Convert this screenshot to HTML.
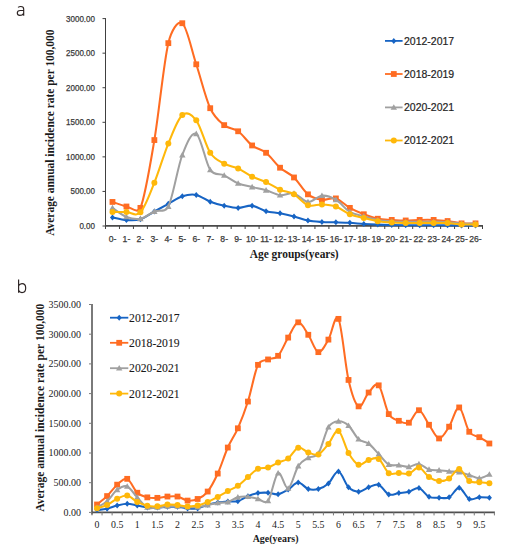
<!DOCTYPE html>
<html><head><meta charset="utf-8"><style>
html,body{margin:0;padding:0;background:#fff;}
body{width:513px;height:550px;overflow:hidden;position:relative;}
svg{position:absolute;left:0;top:0;}
.tt{font-family:"Liberation Sans",sans-serif;font-size:8.8px;fill:#3a3a3a;stroke:#3a3a3a;stroke-width:0.25px;}
.tc{font-family:"Liberation Sans",sans-serif;font-size:8.6px;fill:#3a3a3a;stroke:#3a3a3a;stroke-width:0.25px;}
.tl{font-family:"Liberation Sans",sans-serif;font-size:11px;fill:#222;stroke:#222;stroke-width:0.2px;}
.ttl{font-family:"Liberation Serif",serif;font-weight:bold;font-size:12.4px;fill:#1a1a1a;}
.ttl2{font-family:"Liberation Serif",serif;font-weight:bold;font-size:10.2px;fill:#1a1a1a;}
.bt{font-family:"Liberation Serif",serif;font-size:10px;fill:#222;}
.bc{font-family:"Liberation Serif",serif;font-size:9.9px;fill:#222;}
.bl{font-family:"Liberation Serif",serif;font-size:12.9px;fill:#1a1a1a;stroke:#1a1a1a;stroke-width:0.1px;}
.lab{font-family:"Liberation Sans",sans-serif;font-size:17px;fill:#333;}
</style></head><body>
<svg width="513" height="550" viewBox="0 0 513 550">
<path d="M105.5,18.1 V226.5" stroke="#404040" stroke-width="1" fill="none"/>
<path d="M105.0,225.8 H483.0" stroke="#4a4a4a" stroke-width="1.7" fill="none"/>
<path d="M102.5,226.00 H105.5" stroke="#404040" stroke-width="1"/>
<text x="95.0" y="228.95" text-anchor="end" class="tt" textLength="15.57" lengthAdjust="spacingAndGlyphs">0.00</text>
<path d="M102.5,191.43 H105.5" stroke="#404040" stroke-width="1"/>
<text x="95.0" y="194.38" text-anchor="end" class="tt" textLength="24.46" lengthAdjust="spacingAndGlyphs">500.00</text>
<path d="M102.5,156.87 H105.5" stroke="#404040" stroke-width="1"/>
<text x="95.0" y="159.82" text-anchor="end" class="tt" textLength="28.91" lengthAdjust="spacingAndGlyphs">1000.00</text>
<path d="M102.5,122.30 H105.5" stroke="#404040" stroke-width="1"/>
<text x="95.0" y="125.25" text-anchor="end" class="tt" textLength="28.91" lengthAdjust="spacingAndGlyphs">1500.00</text>
<path d="M102.5,87.73 H105.5" stroke="#404040" stroke-width="1"/>
<text x="95.0" y="90.68" text-anchor="end" class="tt" textLength="28.91" lengthAdjust="spacingAndGlyphs">2000.00</text>
<path d="M102.5,53.17 H105.5" stroke="#404040" stroke-width="1"/>
<text x="95.0" y="56.12" text-anchor="end" class="tt" textLength="28.91" lengthAdjust="spacingAndGlyphs">2500.00</text>
<path d="M102.5,18.60 H105.5" stroke="#404040" stroke-width="1"/>
<text x="95.0" y="21.55" text-anchor="end" class="tt" textLength="28.91" lengthAdjust="spacingAndGlyphs">3000.00</text>
<path d="M105.50,226.0 V229.0" stroke="#404040" stroke-width="1"/>
<path d="M119.46,226.0 V229.0" stroke="#404040" stroke-width="1"/>
<path d="M133.43,226.0 V229.0" stroke="#404040" stroke-width="1"/>
<path d="M147.39,226.0 V229.0" stroke="#404040" stroke-width="1"/>
<path d="M161.35,226.0 V229.0" stroke="#404040" stroke-width="1"/>
<path d="M175.31,226.0 V229.0" stroke="#404040" stroke-width="1"/>
<path d="M189.28,226.0 V229.0" stroke="#404040" stroke-width="1"/>
<path d="M203.24,226.0 V229.0" stroke="#404040" stroke-width="1"/>
<path d="M217.20,226.0 V229.0" stroke="#404040" stroke-width="1"/>
<path d="M231.17,226.0 V229.0" stroke="#404040" stroke-width="1"/>
<path d="M245.13,226.0 V229.0" stroke="#404040" stroke-width="1"/>
<path d="M259.09,226.0 V229.0" stroke="#404040" stroke-width="1"/>
<path d="M273.06,226.0 V229.0" stroke="#404040" stroke-width="1"/>
<path d="M287.02,226.0 V229.0" stroke="#404040" stroke-width="1"/>
<path d="M300.98,226.0 V229.0" stroke="#404040" stroke-width="1"/>
<path d="M314.94,226.0 V229.0" stroke="#404040" stroke-width="1"/>
<path d="M328.91,226.0 V229.0" stroke="#404040" stroke-width="1"/>
<path d="M342.87,226.0 V229.0" stroke="#404040" stroke-width="1"/>
<path d="M356.83,226.0 V229.0" stroke="#404040" stroke-width="1"/>
<path d="M370.80,226.0 V229.0" stroke="#404040" stroke-width="1"/>
<path d="M384.76,226.0 V229.0" stroke="#404040" stroke-width="1"/>
<path d="M398.72,226.0 V229.0" stroke="#404040" stroke-width="1"/>
<path d="M412.69,226.0 V229.0" stroke="#404040" stroke-width="1"/>
<path d="M426.65,226.0 V229.0" stroke="#404040" stroke-width="1"/>
<path d="M440.61,226.0 V229.0" stroke="#404040" stroke-width="1"/>
<path d="M454.57,226.0 V229.0" stroke="#404040" stroke-width="1"/>
<path d="M468.54,226.0 V229.0" stroke="#404040" stroke-width="1"/>
<path d="M482.50,226.0 V229.0" stroke="#404040" stroke-width="1"/>
<text x="112.48" y="241.8" text-anchor="middle" class="tc">0-</text>
<text x="126.44" y="241.8" text-anchor="middle" class="tc">1-</text>
<text x="140.41" y="241.8" text-anchor="middle" class="tc">2-</text>
<text x="154.37" y="241.8" text-anchor="middle" class="tc">3-</text>
<text x="168.33" y="241.8" text-anchor="middle" class="tc">4-</text>
<text x="182.30" y="241.8" text-anchor="middle" class="tc">5-</text>
<text x="196.26" y="241.8" text-anchor="middle" class="tc">6-</text>
<text x="210.22" y="241.8" text-anchor="middle" class="tc">7-</text>
<text x="224.19" y="241.8" text-anchor="middle" class="tc">8-</text>
<text x="238.15" y="241.8" text-anchor="middle" class="tc">9-</text>
<text x="252.11" y="241.8" text-anchor="middle" class="tc">10-</text>
<text x="266.07" y="241.8" text-anchor="middle" class="tc">11-</text>
<text x="280.04" y="241.8" text-anchor="middle" class="tc">12-</text>
<text x="294.00" y="241.8" text-anchor="middle" class="tc">13-</text>
<text x="307.96" y="241.8" text-anchor="middle" class="tc">14-</text>
<text x="321.93" y="241.8" text-anchor="middle" class="tc">15-</text>
<text x="335.89" y="241.8" text-anchor="middle" class="tc">16-</text>
<text x="349.85" y="241.8" text-anchor="middle" class="tc">17-</text>
<text x="363.81" y="241.8" text-anchor="middle" class="tc">18-</text>
<text x="377.78" y="241.8" text-anchor="middle" class="tc">19-</text>
<text x="391.74" y="241.8" text-anchor="middle" class="tc">20-</text>
<text x="405.70" y="241.8" text-anchor="middle" class="tc">21-</text>
<text x="419.67" y="241.8" text-anchor="middle" class="tc">22-</text>
<text x="433.63" y="241.8" text-anchor="middle" class="tc">23-</text>
<text x="447.59" y="241.8" text-anchor="middle" class="tc">24-</text>
<text x="461.56" y="241.8" text-anchor="middle" class="tc">25-</text>
<text x="475.52" y="241.8" text-anchor="middle" class="tc">26-</text>
<path d="M112.48,217.43 C114.81,217.88 121.79,219.80 126.44,220.12 C131.10,220.45 135.75,220.80 140.41,219.36 C145.06,217.92 149.72,214.07 154.37,211.48 C159.02,208.89 163.68,206.34 168.33,203.81 C172.99,201.27 177.64,197.76 182.30,196.27 C186.95,194.79 191.60,193.99 196.26,194.89 C200.91,195.79 205.57,199.87 210.22,201.67 C214.88,203.46 219.53,204.64 224.19,205.67 C228.84,206.71 233.49,207.89 238.15,207.89 C242.80,207.89 247.46,205.12 252.11,205.67 C256.77,206.23 261.42,209.93 266.07,211.21 C270.73,212.48 275.38,212.46 280.04,213.35 C284.69,214.24 289.35,215.32 294.00,216.53 C298.65,217.74 303.31,219.70 307.96,220.61 C312.62,221.52 317.27,221.70 321.93,221.99 C326.58,222.28 331.23,222.20 335.89,222.34 C340.54,222.47 345.20,222.55 349.85,222.82 C354.51,223.08 359.16,223.63 363.81,223.93 C368.47,224.23 373.12,224.44 377.78,224.62 C382.43,224.79 387.09,224.87 391.74,224.96 C396.40,225.06 401.05,225.14 405.70,225.17 C410.36,225.20 415.01,225.17 419.67,225.17 C424.32,225.17 428.98,225.15 433.63,225.17 C438.28,225.19 442.94,225.26 447.59,225.31 C452.25,225.35 456.90,225.42 461.56,225.45 C466.21,225.47 473.19,225.45 475.52,225.45" stroke="#1764C4" stroke-width="2.05" fill="none" stroke-linejoin="round" stroke-linecap="round"/>
<path d="M112.48,214.43 L115.03,217.43 L112.48,220.43 L109.93,217.43Z" fill="#1764C4"/>
<path d="M126.44,217.12 L128.99,220.12 L126.44,223.12 L123.89,220.12Z" fill="#1764C4"/>
<path d="M140.41,216.36 L142.96,219.36 L140.41,222.36 L137.86,219.36Z" fill="#1764C4"/>
<path d="M154.37,208.48 L156.92,211.48 L154.37,214.48 L151.82,211.48Z" fill="#1764C4"/>
<path d="M168.33,200.81 L170.88,203.81 L168.33,206.81 L165.78,203.81Z" fill="#1764C4"/>
<path d="M182.30,193.27 L184.85,196.27 L182.30,199.27 L179.75,196.27Z" fill="#1764C4"/>
<path d="M196.26,191.89 L198.81,194.89 L196.26,197.89 L193.71,194.89Z" fill="#1764C4"/>
<path d="M210.22,198.67 L212.77,201.67 L210.22,204.67 L207.67,201.67Z" fill="#1764C4"/>
<path d="M224.19,202.67 L226.74,205.67 L224.19,208.67 L221.64,205.67Z" fill="#1764C4"/>
<path d="M238.15,204.89 L240.70,207.89 L238.15,210.89 L235.60,207.89Z" fill="#1764C4"/>
<path d="M252.11,202.67 L254.66,205.67 L252.11,208.67 L249.56,205.67Z" fill="#1764C4"/>
<path d="M266.07,208.21 L268.62,211.21 L266.07,214.21 L263.52,211.21Z" fill="#1764C4"/>
<path d="M280.04,210.35 L282.59,213.35 L280.04,216.35 L277.49,213.35Z" fill="#1764C4"/>
<path d="M294.00,213.53 L296.55,216.53 L294.00,219.53 L291.45,216.53Z" fill="#1764C4"/>
<path d="M307.96,217.61 L310.51,220.61 L307.96,223.61 L305.41,220.61Z" fill="#1764C4"/>
<path d="M321.93,218.99 L324.48,221.99 L321.93,224.99 L319.38,221.99Z" fill="#1764C4"/>
<path d="M335.89,219.34 L338.44,222.34 L335.89,225.34 L333.34,222.34Z" fill="#1764C4"/>
<path d="M349.85,219.82 L352.40,222.82 L349.85,225.82 L347.30,222.82Z" fill="#1764C4"/>
<path d="M363.81,220.93 L366.36,223.93 L363.81,226.93 L361.26,223.93Z" fill="#1764C4"/>
<path d="M377.78,221.62 L380.33,224.62 L377.78,227.62 L375.23,224.62Z" fill="#1764C4"/>
<path d="M391.74,221.96 L394.29,224.96 L391.74,227.96 L389.19,224.96Z" fill="#1764C4"/>
<path d="M405.70,222.17 L408.25,225.17 L405.70,228.17 L403.15,225.17Z" fill="#1764C4"/>
<path d="M419.67,222.17 L422.22,225.17 L419.67,228.17 L417.12,225.17Z" fill="#1764C4"/>
<path d="M433.63,222.17 L436.18,225.17 L433.63,228.17 L431.08,225.17Z" fill="#1764C4"/>
<path d="M447.59,222.31 L450.14,225.31 L447.59,228.31 L445.04,225.31Z" fill="#1764C4"/>
<path d="M461.56,222.45 L464.11,225.45 L461.56,228.45 L459.01,225.45Z" fill="#1764C4"/>
<path d="M475.52,222.45 L478.07,225.45 L475.52,228.45 L472.97,225.45Z" fill="#1764C4"/>
<path d="M112.48,201.94 C114.81,202.70 121.79,205.51 126.44,206.50 C131.10,207.50 137.69,214.35 140.41,207.89 C145.06,196.81 149.72,167.52 154.37,140.07 C159.02,112.61 163.68,62.61 168.33,43.14 C171.16,31.32 177.64,19.71 182.30,23.23 C186.95,26.76 191.60,50.14 196.26,64.30 C200.91,78.46 205.57,98.06 210.22,108.20 C214.80,118.17 219.53,121.29 224.19,125.13 C228.84,128.98 233.49,127.90 238.15,131.29 C242.80,134.67 247.46,141.88 252.11,145.46 C256.77,149.04 261.42,149.08 266.07,152.79 C270.73,156.50 275.38,163.61 280.04,167.72 C284.69,171.83 289.35,173.03 294.00,177.47 C298.65,181.90 303.31,190.63 307.96,194.34 C312.62,198.05 317.27,199.05 321.93,199.73 C326.58,200.41 331.23,197.06 335.89,198.42 C340.54,199.78 345.20,205.25 349.85,207.89 C354.51,210.53 359.16,212.44 363.81,214.25 C368.47,216.06 373.12,217.80 377.78,218.74 C382.43,219.69 387.09,219.63 391.74,219.92 C396.40,220.20 401.05,220.47 405.70,220.47 C410.36,220.47 415.01,220.01 419.67,219.92 C424.32,219.82 428.98,219.73 433.63,219.92 C438.28,220.10 442.94,220.45 447.59,221.02 C452.25,221.60 456.90,222.98 461.56,223.37 C466.21,223.76 473.19,223.37 475.52,223.37" stroke="#FF6C22" stroke-width="2.05" fill="none" stroke-linejoin="round" stroke-linecap="round"/>
<rect x="109.58" y="199.04" width="5.80" height="5.80" fill="#FF6C22"/>
<rect x="123.54" y="203.60" width="5.80" height="5.80" fill="#FF6C22"/>
<rect x="137.51" y="204.99" width="5.80" height="5.80" fill="#FF6C22"/>
<rect x="151.47" y="137.17" width="5.80" height="5.80" fill="#FF6C22"/>
<rect x="165.43" y="40.24" width="5.80" height="5.80" fill="#FF6C22"/>
<rect x="179.40" y="20.33" width="5.80" height="5.80" fill="#FF6C22"/>
<rect x="193.36" y="61.40" width="5.80" height="5.80" fill="#FF6C22"/>
<rect x="207.32" y="105.30" width="5.80" height="5.80" fill="#FF6C22"/>
<rect x="221.29" y="122.23" width="5.80" height="5.80" fill="#FF6C22"/>
<rect x="235.25" y="128.39" width="5.80" height="5.80" fill="#FF6C22"/>
<rect x="249.21" y="142.56" width="5.80" height="5.80" fill="#FF6C22"/>
<rect x="263.17" y="149.89" width="5.80" height="5.80" fill="#FF6C22"/>
<rect x="277.14" y="164.82" width="5.80" height="5.80" fill="#FF6C22"/>
<rect x="291.10" y="174.57" width="5.80" height="5.80" fill="#FF6C22"/>
<rect x="305.06" y="191.44" width="5.80" height="5.80" fill="#FF6C22"/>
<rect x="319.03" y="196.83" width="5.80" height="5.80" fill="#FF6C22"/>
<rect x="332.99" y="195.52" width="5.80" height="5.80" fill="#FF6C22"/>
<rect x="346.95" y="204.99" width="5.80" height="5.80" fill="#FF6C22"/>
<rect x="360.91" y="211.35" width="5.80" height="5.80" fill="#FF6C22"/>
<rect x="374.88" y="215.84" width="5.80" height="5.80" fill="#FF6C22"/>
<rect x="388.84" y="217.02" width="5.80" height="5.80" fill="#FF6C22"/>
<rect x="402.80" y="217.57" width="5.80" height="5.80" fill="#FF6C22"/>
<rect x="416.77" y="217.02" width="5.80" height="5.80" fill="#FF6C22"/>
<rect x="430.73" y="217.02" width="5.80" height="5.80" fill="#FF6C22"/>
<rect x="444.69" y="218.12" width="5.80" height="5.80" fill="#FF6C22"/>
<rect x="458.66" y="220.47" width="5.80" height="5.80" fill="#FF6C22"/>
<rect x="472.62" y="220.47" width="5.80" height="5.80" fill="#FF6C22"/>
<path d="M112.48,207.89 C114.81,209.38 121.79,215.07 126.44,216.87 C131.10,218.68 135.75,219.64 140.41,218.74 C145.06,217.84 149.72,213.52 154.37,211.48 C159.02,209.44 165.05,213.15 168.33,206.50 C172.99,197.09 177.64,167.12 182.30,155.00 C186.85,143.14 191.60,131.29 196.26,133.78 C200.91,136.26 205.57,163.00 210.22,169.93 C214.40,176.16 219.53,173.15 224.19,175.39 C228.84,177.64 233.49,181.48 238.15,183.41 C242.80,185.35 247.46,185.87 252.11,187.01 C256.77,188.15 261.42,188.90 266.07,190.26 C270.73,191.62 275.38,194.62 280.04,195.17 C284.69,195.71 289.35,192.38 294.00,193.51 C298.65,194.64 303.31,201.58 307.96,201.94 C312.62,202.30 317.27,196.02 321.93,195.65 C326.58,195.28 331.23,197.01 335.89,199.73 C340.54,202.45 345.20,209.20 349.85,211.97 C354.51,214.73 359.16,214.96 363.81,216.32 C368.47,217.68 373.12,219.26 377.78,220.12 C382.43,220.99 387.09,221.22 391.74,221.51 C396.40,221.79 401.05,221.79 405.70,221.85 C410.36,221.91 415.01,221.85 419.67,221.85 C424.32,221.85 428.98,221.79 433.63,221.85 C438.28,221.91 442.94,221.91 447.59,222.20 C452.25,222.49 456.90,223.35 461.56,223.58 C466.21,223.81 473.19,223.58 475.52,223.58" stroke="#A0A0A0" stroke-width="2.05" fill="none" stroke-linejoin="round" stroke-linecap="round"/>
<path d="M112.48,204.69 L115.68,210.29 L109.28,210.29Z" fill="#A0A0A0"/>
<path d="M126.44,213.67 L129.64,219.27 L123.24,219.27Z" fill="#A0A0A0"/>
<path d="M140.41,215.54 L143.61,221.14 L137.21,221.14Z" fill="#A0A0A0"/>
<path d="M154.37,208.28 L157.57,213.88 L151.17,213.88Z" fill="#A0A0A0"/>
<path d="M168.33,203.30 L171.53,208.90 L165.13,208.90Z" fill="#A0A0A0"/>
<path d="M182.30,151.80 L185.50,157.40 L179.10,157.40Z" fill="#A0A0A0"/>
<path d="M196.26,130.58 L199.46,136.18 L193.06,136.18Z" fill="#A0A0A0"/>
<path d="M210.22,166.73 L213.42,172.33 L207.02,172.33Z" fill="#A0A0A0"/>
<path d="M224.19,172.19 L227.39,177.79 L220.99,177.79Z" fill="#A0A0A0"/>
<path d="M238.15,180.21 L241.35,185.81 L234.95,185.81Z" fill="#A0A0A0"/>
<path d="M252.11,183.81 L255.31,189.41 L248.91,189.41Z" fill="#A0A0A0"/>
<path d="M266.07,187.06 L269.27,192.66 L262.87,192.66Z" fill="#A0A0A0"/>
<path d="M280.04,191.97 L283.24,197.57 L276.84,197.57Z" fill="#A0A0A0"/>
<path d="M294.00,190.31 L297.20,195.91 L290.80,195.91Z" fill="#A0A0A0"/>
<path d="M307.96,198.74 L311.16,204.34 L304.76,204.34Z" fill="#A0A0A0"/>
<path d="M321.93,192.45 L325.13,198.05 L318.73,198.05Z" fill="#A0A0A0"/>
<path d="M335.89,196.53 L339.09,202.13 L332.69,202.13Z" fill="#A0A0A0"/>
<path d="M349.85,208.77 L353.05,214.37 L346.65,214.37Z" fill="#A0A0A0"/>
<path d="M363.81,213.12 L367.01,218.72 L360.61,218.72Z" fill="#A0A0A0"/>
<path d="M377.78,216.92 L380.98,222.52 L374.58,222.52Z" fill="#A0A0A0"/>
<path d="M391.74,218.31 L394.94,223.91 L388.54,223.91Z" fill="#A0A0A0"/>
<path d="M405.70,218.65 L408.90,224.25 L402.50,224.25Z" fill="#A0A0A0"/>
<path d="M419.67,218.65 L422.87,224.25 L416.47,224.25Z" fill="#A0A0A0"/>
<path d="M433.63,218.65 L436.83,224.25 L430.43,224.25Z" fill="#A0A0A0"/>
<path d="M447.59,219.00 L450.79,224.60 L444.39,224.60Z" fill="#A0A0A0"/>
<path d="M461.56,220.38 L464.76,225.98 L458.36,225.98Z" fill="#A0A0A0"/>
<path d="M475.52,220.38 L478.72,225.98 L472.32,225.98Z" fill="#A0A0A0"/>
<path d="M112.48,211.97 C114.81,211.97 121.79,211.91 126.44,211.97 C131.10,212.02 135.75,217.20 140.41,212.31 C145.06,207.43 149.72,194.12 154.37,182.65 C159.02,171.19 163.68,154.78 168.33,143.52 C172.99,132.27 177.64,118.98 182.30,115.11 C186.95,111.24 191.82,114.31 196.26,120.30 C200.91,126.57 205.57,145.56 210.22,152.79 C214.88,160.01 219.53,161.03 224.19,163.64 C228.84,166.26 233.49,166.31 238.15,168.48 C242.80,170.65 247.46,174.37 252.11,176.64 C256.77,178.91 261.42,179.92 266.07,182.10 C270.73,184.28 275.38,187.67 280.04,189.70 C284.69,191.74 289.35,191.76 294.00,194.34 C298.65,196.92 303.31,203.51 307.96,205.19 C312.62,206.87 317.27,204.21 321.93,204.43 C326.58,204.65 331.23,204.88 335.89,206.50 C340.54,208.13 345.20,212.25 349.85,214.18 C354.51,216.10 359.16,216.89 363.81,218.05 C368.47,219.21 373.12,220.41 377.78,221.16 C382.43,221.91 387.09,222.26 391.74,222.54 C396.40,222.83 401.05,222.83 405.70,222.89 C410.36,222.95 415.01,222.89 419.67,222.89 C424.32,222.89 428.98,222.85 433.63,222.89 C438.28,222.92 442.94,222.83 447.59,223.10 C452.25,223.36 456.90,224.25 461.56,224.48 C466.21,224.71 473.19,224.48 475.52,224.48" stroke="#FFB80A" stroke-width="2.05" fill="none" stroke-linejoin="round" stroke-linecap="round"/>
<circle cx="112.48" cy="211.97" r="3.00" fill="#FFB80A"/>
<circle cx="126.44" cy="211.97" r="3.00" fill="#FFB80A"/>
<circle cx="140.41" cy="212.31" r="3.00" fill="#FFB80A"/>
<circle cx="154.37" cy="182.65" r="3.00" fill="#FFB80A"/>
<circle cx="168.33" cy="143.52" r="3.00" fill="#FFB80A"/>
<circle cx="182.30" cy="115.11" r="3.00" fill="#FFB80A"/>
<circle cx="196.26" cy="120.30" r="3.00" fill="#FFB80A"/>
<circle cx="210.22" cy="152.79" r="3.00" fill="#FFB80A"/>
<circle cx="224.19" cy="163.64" r="3.00" fill="#FFB80A"/>
<circle cx="238.15" cy="168.48" r="3.00" fill="#FFB80A"/>
<circle cx="252.11" cy="176.64" r="3.00" fill="#FFB80A"/>
<circle cx="266.07" cy="182.10" r="3.00" fill="#FFB80A"/>
<circle cx="280.04" cy="189.70" r="3.00" fill="#FFB80A"/>
<circle cx="294.00" cy="194.34" r="3.00" fill="#FFB80A"/>
<circle cx="307.96" cy="205.19" r="3.00" fill="#FFB80A"/>
<circle cx="321.93" cy="204.43" r="3.00" fill="#FFB80A"/>
<circle cx="335.89" cy="206.50" r="3.00" fill="#FFB80A"/>
<circle cx="349.85" cy="214.18" r="3.00" fill="#FFB80A"/>
<circle cx="363.81" cy="218.05" r="3.00" fill="#FFB80A"/>
<circle cx="377.78" cy="221.16" r="3.00" fill="#FFB80A"/>
<circle cx="391.74" cy="222.54" r="3.00" fill="#FFB80A"/>
<circle cx="405.70" cy="222.89" r="3.00" fill="#FFB80A"/>
<circle cx="419.67" cy="222.89" r="3.00" fill="#FFB80A"/>
<circle cx="433.63" cy="222.89" r="3.00" fill="#FFB80A"/>
<circle cx="447.59" cy="223.10" r="3.00" fill="#FFB80A"/>
<circle cx="461.56" cy="224.48" r="3.00" fill="#FFB80A"/>
<circle cx="475.52" cy="224.48" r="3.00" fill="#FFB80A"/>
<path d="M385,40.9 H402.6" stroke="#1764C4" stroke-width="1.8"/>
<path d="M393.80,37.90 L396.35,40.90 L393.80,43.90 L391.25,40.90Z" fill="#1764C4"/>
<text x="404" y="44.80" class="tl" textLength="50.2" lengthAdjust="spacingAndGlyphs">2012-2017</text>
<path d="M385,74.0 H402.6" stroke="#FF6C22" stroke-width="1.8"/>
<rect x="390.90" y="71.10" width="5.80" height="5.80" fill="#FF6C22"/>
<text x="404" y="77.90" class="tl" textLength="50.2" lengthAdjust="spacingAndGlyphs">2018-2019</text>
<path d="M385,107.4 H402.6" stroke="#A0A0A0" stroke-width="1.8"/>
<path d="M393.80,104.20 L397.00,109.80 L390.60,109.80Z" fill="#A0A0A0"/>
<text x="404" y="111.30" class="tl" textLength="50.2" lengthAdjust="spacingAndGlyphs">2020-2021</text>
<path d="M385,140.5 H402.6" stroke="#FFB80A" stroke-width="1.8"/>
<circle cx="393.80" cy="140.50" r="3.00" fill="#FFB80A"/>
<text x="404" y="144.40" class="tl" textLength="50.2" lengthAdjust="spacingAndGlyphs">2012-2021</text>
<text transform="translate(54.2,235.8) rotate(-90)" class="ttl" textLength="206.3" lengthAdjust="spacingAndGlyphs">Average annual incidence rate per 100,000</text>
<text x="249.7" y="257.6" class="ttl" textLength="89" lengthAdjust="spacingAndGlyphs">Age groups(years)</text>
<path d="M18.0,7.4 C18.8,6.8 19.8,6.5 20.8,6.5 C22.6,6.5 23.7,7.4 23.7,9.2 V15.7 M23.7,10.5 H20.2 C18.4,10.5 17.3,11.5 17.3,13.0 C17.3,14.5 18.4,15.4 19.8,15.4 C21.4,15.4 23,14.6 23.7,13.2" stroke="#2b2222" stroke-width="1.15" fill="none"/>
<path d="M92.0,304.0 V514.4" stroke="#7a7a7a" stroke-width="2" fill="none"/>
<path d="M91.5,512.4 H494.90" stroke="#505050" stroke-width="1.6" fill="none"/>
<path d="M89.0,512.40 H92.0" stroke="#7a7a7a" stroke-width="1"/>
<text x="81.0" y="515.70" text-anchor="end" class="bt">0.00</text>
<path d="M89.0,482.70 H92.0" stroke="#7a7a7a" stroke-width="1"/>
<text x="81.0" y="486.00" text-anchor="end" class="bt">500.00</text>
<path d="M89.0,453.00 H92.0" stroke="#7a7a7a" stroke-width="1"/>
<text x="81.0" y="456.30" text-anchor="end" class="bt">1000.00</text>
<path d="M89.0,423.30 H92.0" stroke="#7a7a7a" stroke-width="1"/>
<text x="81.0" y="426.60" text-anchor="end" class="bt">1500.00</text>
<path d="M89.0,393.60 H92.0" stroke="#7a7a7a" stroke-width="1"/>
<text x="81.0" y="396.90" text-anchor="end" class="bt">2000.00</text>
<path d="M89.0,363.90 H92.0" stroke="#7a7a7a" stroke-width="1"/>
<text x="81.0" y="367.20" text-anchor="end" class="bt">2500.00</text>
<path d="M89.0,334.20 H92.0" stroke="#7a7a7a" stroke-width="1"/>
<text x="81.0" y="337.50" text-anchor="end" class="bt">3000.00</text>
<path d="M89.0,304.50 H92.0" stroke="#7a7a7a" stroke-width="1"/>
<text x="81.0" y="307.80" text-anchor="end" class="bt">3500.00</text>
<path d="M92.00,512.4 V515.4" stroke="#7a7a7a" stroke-width="1"/>
<path d="M102.06,512.4 V515.4" stroke="#7a7a7a" stroke-width="1"/>
<path d="M112.12,512.4 V515.4" stroke="#7a7a7a" stroke-width="1"/>
<path d="M122.18,512.4 V515.4" stroke="#7a7a7a" stroke-width="1"/>
<path d="M132.24,512.4 V515.4" stroke="#7a7a7a" stroke-width="1"/>
<path d="M142.30,512.4 V515.4" stroke="#7a7a7a" stroke-width="1"/>
<path d="M152.36,512.4 V515.4" stroke="#7a7a7a" stroke-width="1"/>
<path d="M162.42,512.4 V515.4" stroke="#7a7a7a" stroke-width="1"/>
<path d="M172.48,512.4 V515.4" stroke="#7a7a7a" stroke-width="1"/>
<path d="M182.54,512.4 V515.4" stroke="#7a7a7a" stroke-width="1"/>
<path d="M192.60,512.4 V515.4" stroke="#7a7a7a" stroke-width="1"/>
<path d="M202.66,512.4 V515.4" stroke="#7a7a7a" stroke-width="1"/>
<path d="M212.72,512.4 V515.4" stroke="#7a7a7a" stroke-width="1"/>
<path d="M222.78,512.4 V515.4" stroke="#7a7a7a" stroke-width="1"/>
<path d="M232.84,512.4 V515.4" stroke="#7a7a7a" stroke-width="1"/>
<path d="M242.90,512.4 V515.4" stroke="#7a7a7a" stroke-width="1"/>
<path d="M252.96,512.4 V515.4" stroke="#7a7a7a" stroke-width="1"/>
<path d="M263.02,512.4 V515.4" stroke="#7a7a7a" stroke-width="1"/>
<path d="M273.08,512.4 V515.4" stroke="#7a7a7a" stroke-width="1"/>
<path d="M283.14,512.4 V515.4" stroke="#7a7a7a" stroke-width="1"/>
<path d="M293.20,512.4 V515.4" stroke="#7a7a7a" stroke-width="1"/>
<path d="M303.26,512.4 V515.4" stroke="#7a7a7a" stroke-width="1"/>
<path d="M313.32,512.4 V515.4" stroke="#7a7a7a" stroke-width="1"/>
<path d="M323.38,512.4 V515.4" stroke="#7a7a7a" stroke-width="1"/>
<path d="M333.44,512.4 V515.4" stroke="#7a7a7a" stroke-width="1"/>
<path d="M343.50,512.4 V515.4" stroke="#7a7a7a" stroke-width="1"/>
<path d="M353.56,512.4 V515.4" stroke="#7a7a7a" stroke-width="1"/>
<path d="M363.62,512.4 V515.4" stroke="#7a7a7a" stroke-width="1"/>
<path d="M373.68,512.4 V515.4" stroke="#7a7a7a" stroke-width="1"/>
<path d="M383.74,512.4 V515.4" stroke="#7a7a7a" stroke-width="1"/>
<path d="M393.80,512.4 V515.4" stroke="#7a7a7a" stroke-width="1"/>
<path d="M403.86,512.4 V515.4" stroke="#7a7a7a" stroke-width="1"/>
<path d="M413.92,512.4 V515.4" stroke="#7a7a7a" stroke-width="1"/>
<path d="M423.98,512.4 V515.4" stroke="#7a7a7a" stroke-width="1"/>
<path d="M434.04,512.4 V515.4" stroke="#7a7a7a" stroke-width="1"/>
<path d="M444.10,512.4 V515.4" stroke="#7a7a7a" stroke-width="1"/>
<path d="M454.16,512.4 V515.4" stroke="#7a7a7a" stroke-width="1"/>
<path d="M464.22,512.4 V515.4" stroke="#7a7a7a" stroke-width="1"/>
<path d="M474.28,512.4 V515.4" stroke="#7a7a7a" stroke-width="1"/>
<path d="M484.34,512.4 V515.4" stroke="#7a7a7a" stroke-width="1"/>
<path d="M494.40,512.4 V515.4" stroke="#7a7a7a" stroke-width="1"/>
<text x="97.03" y="527.9" text-anchor="middle" class="bc">0</text>
<text x="117.15" y="527.9" text-anchor="middle" class="bc">0.5</text>
<text x="137.27" y="527.9" text-anchor="middle" class="bc">1</text>
<text x="157.39" y="527.9" text-anchor="middle" class="bc">1.5</text>
<text x="177.51" y="527.9" text-anchor="middle" class="bc">2</text>
<text x="197.63" y="527.9" text-anchor="middle" class="bc">2.5</text>
<text x="217.75" y="527.9" text-anchor="middle" class="bc">3</text>
<text x="237.87" y="527.9" text-anchor="middle" class="bc">3.5</text>
<text x="257.99" y="527.9" text-anchor="middle" class="bc">4</text>
<text x="278.11" y="527.9" text-anchor="middle" class="bc">4.5</text>
<text x="298.23" y="527.9" text-anchor="middle" class="bc">5</text>
<text x="318.35" y="527.9" text-anchor="middle" class="bc">5.5</text>
<text x="338.47" y="527.9" text-anchor="middle" class="bc">6</text>
<text x="358.59" y="527.9" text-anchor="middle" class="bc">6.5</text>
<text x="378.71" y="527.9" text-anchor="middle" class="bc">7</text>
<text x="398.83" y="527.9" text-anchor="middle" class="bc">7.5</text>
<text x="418.95" y="527.9" text-anchor="middle" class="bc">8</text>
<text x="439.07" y="527.9" text-anchor="middle" class="bc">8.5</text>
<text x="459.19" y="527.9" text-anchor="middle" class="bc">9</text>
<text x="479.31" y="527.9" text-anchor="middle" class="bc">9.5</text>
<path d="M97.03,510.08 C98.71,509.87 103.74,509.54 107.09,508.78 C110.44,508.01 113.80,506.36 117.15,505.51 C120.50,504.66 123.86,503.67 127.21,503.67 C130.56,503.67 133.92,504.88 137.27,505.51 C140.62,506.14 143.98,507.14 147.33,507.47 C150.68,507.80 154.04,507.59 157.39,507.47 C160.74,507.35 164.10,506.88 167.45,506.76 C170.80,506.64 174.16,506.48 177.51,506.76 C180.86,507.03 184.22,508.14 187.57,508.42 C190.92,508.70 194.28,509.02 197.63,508.42 C200.98,507.82 204.34,505.79 207.69,504.80 C211.04,503.81 214.40,503.04 217.75,502.48 C221.10,501.92 224.46,501.63 227.81,501.41 C231.16,501.19 234.52,502.04 237.87,501.17 C241.22,500.30 244.58,497.53 247.93,496.18 C251.28,494.84 254.64,493.67 257.99,493.09 C261.34,492.52 264.70,492.53 268.05,492.74 C271.40,492.95 274.76,494.88 278.11,494.34 C281.46,493.81 284.82,491.50 288.17,489.53 C291.52,487.56 294.88,482.60 298.23,482.52 C301.58,482.44 304.94,487.97 308.29,489.06 C311.64,490.14 315.00,490.00 318.35,489.06 C321.70,488.12 325.06,486.32 328.41,483.41 C331.76,480.50 335.12,470.94 338.47,471.59 C341.82,472.25 345.18,483.99 348.53,487.33 C351.88,490.68 355.24,491.67 358.59,491.67 C361.94,491.67 365.30,488.49 368.65,487.33 C372.00,486.17 375.36,483.53 378.71,484.72 C382.06,485.91 385.42,493.08 388.77,494.46 C392.12,495.85 395.48,493.47 398.83,493.04 C402.18,492.60 405.54,492.68 408.89,491.85 C412.24,491.02 415.60,487.21 418.95,488.05 C422.30,488.88 425.66,495.23 429.01,496.84 C432.36,498.44 435.72,497.58 439.07,497.67 C442.42,497.76 445.78,499.01 449.13,497.37 C452.48,495.74 455.84,487.60 459.19,487.87 C462.54,488.14 465.90,497.39 469.25,498.98 C472.60,500.56 475.96,497.59 479.31,497.37 C482.66,497.15 487.69,497.62 489.37,497.67" stroke="#1764C4" stroke-width="2.05" fill="none" stroke-linejoin="round" stroke-linecap="round"/>
<path d="M97.03,507.08 L99.58,510.08 L97.03,513.08 L94.48,510.08Z" fill="#1764C4"/>
<path d="M107.09,505.78 L109.64,508.78 L107.09,511.78 L104.54,508.78Z" fill="#1764C4"/>
<path d="M117.15,502.51 L119.70,505.51 L117.15,508.51 L114.60,505.51Z" fill="#1764C4"/>
<path d="M127.21,500.67 L129.76,503.67 L127.21,506.67 L124.66,503.67Z" fill="#1764C4"/>
<path d="M137.27,502.51 L139.82,505.51 L137.27,508.51 L134.72,505.51Z" fill="#1764C4"/>
<path d="M147.33,504.47 L149.88,507.47 L147.33,510.47 L144.78,507.47Z" fill="#1764C4"/>
<path d="M157.39,504.47 L159.94,507.47 L157.39,510.47 L154.84,507.47Z" fill="#1764C4"/>
<path d="M167.45,503.76 L170.00,506.76 L167.45,509.76 L164.90,506.76Z" fill="#1764C4"/>
<path d="M177.51,503.76 L180.06,506.76 L177.51,509.76 L174.96,506.76Z" fill="#1764C4"/>
<path d="M187.57,505.42 L190.12,508.42 L187.57,511.42 L185.02,508.42Z" fill="#1764C4"/>
<path d="M197.63,505.42 L200.18,508.42 L197.63,511.42 L195.08,508.42Z" fill="#1764C4"/>
<path d="M207.69,501.80 L210.24,504.80 L207.69,507.80 L205.14,504.80Z" fill="#1764C4"/>
<path d="M217.75,499.48 L220.30,502.48 L217.75,505.48 L215.20,502.48Z" fill="#1764C4"/>
<path d="M227.81,498.41 L230.36,501.41 L227.81,504.41 L225.26,501.41Z" fill="#1764C4"/>
<path d="M237.87,498.17 L240.42,501.17 L237.87,504.17 L235.32,501.17Z" fill="#1764C4"/>
<path d="M247.93,493.18 L250.48,496.18 L247.93,499.18 L245.38,496.18Z" fill="#1764C4"/>
<path d="M257.99,490.09 L260.54,493.09 L257.99,496.09 L255.44,493.09Z" fill="#1764C4"/>
<path d="M268.05,489.74 L270.60,492.74 L268.05,495.74 L265.50,492.74Z" fill="#1764C4"/>
<path d="M278.11,491.34 L280.66,494.34 L278.11,497.34 L275.56,494.34Z" fill="#1764C4"/>
<path d="M288.17,486.53 L290.72,489.53 L288.17,492.53 L285.62,489.53Z" fill="#1764C4"/>
<path d="M298.23,479.52 L300.78,482.52 L298.23,485.52 L295.68,482.52Z" fill="#1764C4"/>
<path d="M308.29,486.06 L310.84,489.06 L308.29,492.06 L305.74,489.06Z" fill="#1764C4"/>
<path d="M318.35,486.06 L320.90,489.06 L318.35,492.06 L315.80,489.06Z" fill="#1764C4"/>
<path d="M328.41,480.41 L330.96,483.41 L328.41,486.41 L325.86,483.41Z" fill="#1764C4"/>
<path d="M338.47,468.59 L341.02,471.59 L338.47,474.59 L335.92,471.59Z" fill="#1764C4"/>
<path d="M348.53,484.33 L351.08,487.33 L348.53,490.33 L345.98,487.33Z" fill="#1764C4"/>
<path d="M358.59,488.67 L361.14,491.67 L358.59,494.67 L356.04,491.67Z" fill="#1764C4"/>
<path d="M368.65,484.33 L371.20,487.33 L368.65,490.33 L366.10,487.33Z" fill="#1764C4"/>
<path d="M378.71,481.72 L381.26,484.72 L378.71,487.72 L376.16,484.72Z" fill="#1764C4"/>
<path d="M388.77,491.46 L391.32,494.46 L388.77,497.46 L386.22,494.46Z" fill="#1764C4"/>
<path d="M398.83,490.04 L401.38,493.04 L398.83,496.04 L396.28,493.04Z" fill="#1764C4"/>
<path d="M408.89,488.85 L411.44,491.85 L408.89,494.85 L406.34,491.85Z" fill="#1764C4"/>
<path d="M418.95,485.05 L421.50,488.05 L418.95,491.05 L416.40,488.05Z" fill="#1764C4"/>
<path d="M429.01,493.84 L431.56,496.84 L429.01,499.84 L426.46,496.84Z" fill="#1764C4"/>
<path d="M439.07,494.67 L441.62,497.67 L439.07,500.67 L436.52,497.67Z" fill="#1764C4"/>
<path d="M449.13,494.37 L451.68,497.37 L449.13,500.37 L446.58,497.37Z" fill="#1764C4"/>
<path d="M459.19,484.87 L461.74,487.87 L459.19,490.87 L456.64,487.87Z" fill="#1764C4"/>
<path d="M469.25,495.98 L471.80,498.98 L469.25,501.98 L466.70,498.98Z" fill="#1764C4"/>
<path d="M479.31,494.37 L481.86,497.37 L479.31,500.37 L476.76,497.37Z" fill="#1764C4"/>
<path d="M489.37,494.67 L491.92,497.67 L489.37,500.67 L486.82,497.67Z" fill="#1764C4"/>
<path d="M97.03,504.50 C98.71,503.09 103.74,499.37 107.09,496.06 C110.44,492.76 113.80,487.53 117.15,484.66 C120.50,481.79 123.86,477.49 127.21,478.84 C130.56,480.19 133.92,489.65 137.27,492.74 C140.62,495.83 143.98,496.52 147.33,497.37 C150.68,498.22 154.04,497.99 157.39,497.85 C160.74,497.71 164.10,496.76 167.45,496.54 C170.80,496.32 174.16,495.87 177.51,496.54 C180.86,497.21 184.22,500.17 187.57,500.58 C190.92,500.99 194.28,500.48 197.63,498.98 C200.98,497.47 204.34,495.79 207.69,491.55 C211.04,487.31 214.40,480.89 217.75,473.55 C221.10,466.22 224.46,455.08 227.81,447.54 C231.16,439.99 234.52,435.95 237.87,428.29 C241.22,420.63 244.58,412.13 247.93,401.56 C251.28,390.99 254.64,371.87 257.99,364.85 C260.45,359.70 264.70,360.95 268.05,359.44 C271.40,357.94 274.76,359.46 278.11,355.82 C281.46,352.18 284.82,343.17 288.17,337.59 C291.52,332.00 294.88,322.79 298.23,322.32 C301.58,321.85 304.94,329.82 308.29,334.79 C311.64,339.76 315.00,351.34 318.35,352.14 C321.70,352.94 325.06,345.15 328.41,339.61 C331.76,334.06 335.12,312.15 338.47,318.87 C341.82,325.60 345.18,365.36 348.53,379.94 C351.70,393.72 355.24,404.27 358.59,406.37 C361.94,408.47 365.30,396.04 368.65,392.53 C372.00,389.03 375.36,381.75 378.71,385.34 C382.06,388.94 385.42,408.18 388.77,414.09 C391.75,419.35 395.48,419.37 398.83,420.81 C402.18,422.24 405.54,424.47 408.89,422.71 C412.24,420.94 415.60,409.89 418.95,410.23 C422.30,410.58 425.66,420.08 429.01,424.78 C432.36,429.49 435.72,438.13 439.07,438.45 C442.42,438.76 445.78,431.85 449.13,426.69 C452.48,421.52 455.84,406.59 459.19,407.44 C462.54,408.29 465.90,426.83 469.25,431.79 C472.45,436.52 475.96,435.25 479.31,437.20 C482.66,439.15 487.69,442.45 489.37,443.50" stroke="#FF6C22" stroke-width="2.05" fill="none" stroke-linejoin="round" stroke-linecap="round"/>
<rect x="94.13" y="501.60" width="5.80" height="5.80" fill="#FF6C22"/>
<rect x="104.19" y="493.17" width="5.80" height="5.80" fill="#FF6C22"/>
<rect x="114.25" y="481.76" width="5.80" height="5.80" fill="#FF6C22"/>
<rect x="124.31" y="475.94" width="5.80" height="5.80" fill="#FF6C22"/>
<rect x="134.37" y="489.84" width="5.80" height="5.80" fill="#FF6C22"/>
<rect x="144.43" y="494.47" width="5.80" height="5.80" fill="#FF6C22"/>
<rect x="154.49" y="494.95" width="5.80" height="5.80" fill="#FF6C22"/>
<rect x="164.55" y="493.64" width="5.80" height="5.80" fill="#FF6C22"/>
<rect x="174.61" y="493.64" width="5.80" height="5.80" fill="#FF6C22"/>
<rect x="184.67" y="497.68" width="5.80" height="5.80" fill="#FF6C22"/>
<rect x="194.73" y="496.08" width="5.80" height="5.80" fill="#FF6C22"/>
<rect x="204.79" y="488.65" width="5.80" height="5.80" fill="#FF6C22"/>
<rect x="214.85" y="470.65" width="5.80" height="5.80" fill="#FF6C22"/>
<rect x="224.91" y="444.64" width="5.80" height="5.80" fill="#FF6C22"/>
<rect x="234.97" y="425.39" width="5.80" height="5.80" fill="#FF6C22"/>
<rect x="245.03" y="398.66" width="5.80" height="5.80" fill="#FF6C22"/>
<rect x="255.09" y="361.95" width="5.80" height="5.80" fill="#FF6C22"/>
<rect x="265.15" y="356.55" width="5.80" height="5.80" fill="#FF6C22"/>
<rect x="275.21" y="352.92" width="5.80" height="5.80" fill="#FF6C22"/>
<rect x="285.27" y="334.69" width="5.80" height="5.80" fill="#FF6C22"/>
<rect x="295.33" y="319.42" width="5.80" height="5.80" fill="#FF6C22"/>
<rect x="305.39" y="331.89" width="5.80" height="5.80" fill="#FF6C22"/>
<rect x="315.45" y="349.24" width="5.80" height="5.80" fill="#FF6C22"/>
<rect x="325.51" y="336.71" width="5.80" height="5.80" fill="#FF6C22"/>
<rect x="335.57" y="315.97" width="5.80" height="5.80" fill="#FF6C22"/>
<rect x="345.63" y="377.04" width="5.80" height="5.80" fill="#FF6C22"/>
<rect x="355.69" y="403.47" width="5.80" height="5.80" fill="#FF6C22"/>
<rect x="365.75" y="389.63" width="5.80" height="5.80" fill="#FF6C22"/>
<rect x="375.81" y="382.44" width="5.80" height="5.80" fill="#FF6C22"/>
<rect x="385.87" y="411.19" width="5.80" height="5.80" fill="#FF6C22"/>
<rect x="395.93" y="417.91" width="5.80" height="5.80" fill="#FF6C22"/>
<rect x="405.99" y="419.81" width="5.80" height="5.80" fill="#FF6C22"/>
<rect x="416.05" y="407.33" width="5.80" height="5.80" fill="#FF6C22"/>
<rect x="426.11" y="421.88" width="5.80" height="5.80" fill="#FF6C22"/>
<rect x="436.17" y="435.55" width="5.80" height="5.80" fill="#FF6C22"/>
<rect x="446.23" y="423.79" width="5.80" height="5.80" fill="#FF6C22"/>
<rect x="456.29" y="404.54" width="5.80" height="5.80" fill="#FF6C22"/>
<rect x="466.35" y="428.89" width="5.80" height="5.80" fill="#FF6C22"/>
<rect x="476.41" y="434.30" width="5.80" height="5.80" fill="#FF6C22"/>
<rect x="486.47" y="440.60" width="5.80" height="5.80" fill="#FF6C22"/>
<path d="M97.03,507.47 C98.71,506.42 103.74,504.12 107.09,501.17 C110.44,498.22 113.80,492.22 117.15,489.77 C120.50,487.31 123.86,485.17 127.21,486.44 C130.56,487.71 133.92,493.87 137.27,497.37 C140.62,500.88 143.98,505.79 147.33,507.47 C150.68,509.15 154.04,507.67 157.39,507.47 C160.74,507.27 164.10,506.48 167.45,506.28 C170.80,506.08 174.16,506.13 177.51,506.28 C180.86,506.43 184.22,507.02 187.57,507.17 C190.92,507.32 194.28,507.52 197.63,507.17 C200.98,506.83 204.34,505.81 207.69,505.09 C211.04,504.38 214.40,503.41 217.75,502.90 C221.10,502.38 224.46,502.94 227.81,502.00 C231.16,501.07 234.52,498.20 237.87,497.31 C241.22,496.42 244.58,496.40 247.93,496.66 C251.28,496.92 254.64,498.15 257.99,498.86 C261.34,499.56 264.89,504.92 268.05,500.88 C271.40,496.59 274.76,475.21 278.11,473.14 C281.46,471.07 284.82,489.64 288.17,488.46 C291.52,487.28 294.88,471.19 298.23,466.07 C301.58,460.95 304.94,459.85 308.29,457.75 C311.64,455.65 315.34,458.04 318.35,453.48 C321.70,448.39 325.06,432.59 328.41,427.22 C331.51,422.27 335.12,421.55 338.47,421.28 C341.82,421.01 345.18,422.63 348.53,425.62 C351.88,428.61 355.24,436.23 358.59,439.22 C361.94,442.21 365.30,441.08 368.65,443.56 C372.00,446.03 375.36,450.57 378.71,454.07 C382.06,457.56 385.42,462.67 388.77,464.52 C392.12,466.37 395.48,464.80 398.83,465.18 C402.18,465.55 405.54,466.98 408.89,466.78 C412.24,466.58 415.60,463.53 418.95,463.99 C422.30,464.44 425.66,468.46 429.01,469.51 C432.36,470.56 435.72,469.97 439.07,470.29 C442.42,470.60 445.78,471.10 449.13,471.41 C452.48,471.73 455.84,471.58 459.19,472.19 C462.54,472.79 465.90,474.03 469.25,475.04 C472.60,476.05 475.96,478.35 479.31,478.25 C482.66,478.14 487.69,475.03 489.37,474.38" stroke="#A0A0A0" stroke-width="2.05" fill="none" stroke-linejoin="round" stroke-linecap="round"/>
<path d="M97.03,504.27 L100.23,509.87 L93.83,509.87Z" fill="#A0A0A0"/>
<path d="M107.09,497.97 L110.29,503.57 L103.89,503.57Z" fill="#A0A0A0"/>
<path d="M117.15,486.57 L120.35,492.17 L113.95,492.17Z" fill="#A0A0A0"/>
<path d="M127.21,483.24 L130.41,488.84 L124.01,488.84Z" fill="#A0A0A0"/>
<path d="M137.27,494.17 L140.47,499.77 L134.07,499.77Z" fill="#A0A0A0"/>
<path d="M147.33,504.27 L150.53,509.87 L144.13,509.87Z" fill="#A0A0A0"/>
<path d="M157.39,504.27 L160.59,509.87 L154.19,509.87Z" fill="#A0A0A0"/>
<path d="M167.45,503.08 L170.65,508.68 L164.25,508.68Z" fill="#A0A0A0"/>
<path d="M177.51,503.08 L180.71,508.68 L174.31,508.68Z" fill="#A0A0A0"/>
<path d="M187.57,503.97 L190.77,509.57 L184.37,509.57Z" fill="#A0A0A0"/>
<path d="M197.63,503.97 L200.83,509.57 L194.43,509.57Z" fill="#A0A0A0"/>
<path d="M207.69,501.89 L210.89,507.49 L204.49,507.49Z" fill="#A0A0A0"/>
<path d="M217.75,499.70 L220.95,505.30 L214.55,505.30Z" fill="#A0A0A0"/>
<path d="M227.81,498.81 L231.01,504.40 L224.61,504.40Z" fill="#A0A0A0"/>
<path d="M237.87,494.11 L241.07,499.71 L234.67,499.71Z" fill="#A0A0A0"/>
<path d="M247.93,493.46 L251.13,499.06 L244.73,499.06Z" fill="#A0A0A0"/>
<path d="M257.99,495.66 L261.19,501.26 L254.79,501.26Z" fill="#A0A0A0"/>
<path d="M268.05,497.68 L271.25,503.28 L264.85,503.28Z" fill="#A0A0A0"/>
<path d="M278.11,469.94 L281.31,475.54 L274.91,475.54Z" fill="#A0A0A0"/>
<path d="M288.17,485.26 L291.37,490.86 L284.97,490.86Z" fill="#A0A0A0"/>
<path d="M298.23,462.87 L301.43,468.47 L295.03,468.47Z" fill="#A0A0A0"/>
<path d="M308.29,454.55 L311.49,460.15 L305.09,460.15Z" fill="#A0A0A0"/>
<path d="M318.35,450.28 L321.55,455.88 L315.15,455.88Z" fill="#A0A0A0"/>
<path d="M328.41,424.02 L331.61,429.62 L325.21,429.62Z" fill="#A0A0A0"/>
<path d="M338.47,418.08 L341.67,423.68 L335.27,423.68Z" fill="#A0A0A0"/>
<path d="M348.53,422.42 L351.73,428.02 L345.33,428.02Z" fill="#A0A0A0"/>
<path d="M358.59,436.02 L361.79,441.62 L355.39,441.62Z" fill="#A0A0A0"/>
<path d="M368.65,440.36 L371.85,445.96 L365.45,445.96Z" fill="#A0A0A0"/>
<path d="M378.71,450.87 L381.91,456.47 L375.51,456.47Z" fill="#A0A0A0"/>
<path d="M388.77,461.32 L391.97,466.92 L385.57,466.92Z" fill="#A0A0A0"/>
<path d="M398.83,461.98 L402.03,467.58 L395.63,467.58Z" fill="#A0A0A0"/>
<path d="M408.89,463.58 L412.09,469.18 L405.69,469.18Z" fill="#A0A0A0"/>
<path d="M418.95,460.79 L422.15,466.39 L415.75,466.39Z" fill="#A0A0A0"/>
<path d="M429.01,466.31 L432.21,471.91 L425.81,471.91Z" fill="#A0A0A0"/>
<path d="M439.07,467.09 L442.27,472.69 L435.87,472.69Z" fill="#A0A0A0"/>
<path d="M449.13,468.21 L452.33,473.81 L445.93,473.81Z" fill="#A0A0A0"/>
<path d="M459.19,468.99 L462.39,474.59 L455.99,474.59Z" fill="#A0A0A0"/>
<path d="M469.25,471.84 L472.45,477.44 L466.05,477.44Z" fill="#A0A0A0"/>
<path d="M479.31,475.05 L482.51,480.64 L476.11,480.64Z" fill="#A0A0A0"/>
<path d="M489.37,471.18 L492.57,476.78 L486.17,476.78Z" fill="#A0A0A0"/>
<path d="M97.03,508.30 C98.71,507.75 103.74,506.58 107.09,504.97 C110.44,503.37 113.80,500.25 117.15,498.68 C120.50,497.10 123.86,494.99 127.21,495.53 C130.56,496.07 133.92,500.23 137.27,501.95 C140.62,503.66 143.98,505.08 147.33,505.81 C150.68,506.53 154.04,506.50 157.39,506.28 C160.74,506.06 164.10,504.72 167.45,504.50 C170.80,504.28 174.16,504.66 177.51,504.97 C180.86,505.29 184.22,506.30 187.57,506.40 C190.92,506.50 194.28,506.30 197.63,505.57 C200.98,504.84 204.34,503.44 207.69,502.00 C211.04,500.57 214.40,498.78 217.75,496.96 C221.10,495.13 224.46,492.94 227.81,491.08 C231.16,489.21 234.52,488.12 237.87,485.79 C241.22,483.46 244.58,479.94 247.93,477.12 C251.28,474.29 254.64,470.45 257.99,468.86 C261.34,467.27 264.70,468.60 268.05,467.55 C271.40,466.50 274.76,464.08 278.11,462.56 C281.46,461.05 284.82,460.95 288.17,458.46 C291.52,455.98 294.88,448.64 298.23,447.65 C301.58,446.66 304.94,451.40 308.29,452.52 C311.64,453.65 315.00,455.84 318.35,454.43 C321.70,453.01 325.06,447.95 328.41,444.03 C331.76,440.11 335.12,429.42 338.47,430.90 C341.82,432.39 345.18,447.30 348.53,452.94 C351.88,458.58 355.24,463.58 358.59,464.76 C361.94,465.94 365.30,460.99 368.65,460.01 C372.00,459.03 375.36,456.69 378.71,458.88 C382.06,461.07 385.42,470.78 388.77,473.14 C392.12,475.49 395.48,472.94 398.83,473.02 C402.18,473.10 405.54,474.51 408.89,473.61 C412.24,472.71 415.60,467.03 418.95,467.61 C422.30,468.20 425.66,474.88 429.01,477.12 C432.36,479.35 435.72,480.80 439.07,481.04 C442.42,481.27 445.78,480.55 449.13,478.54 C452.48,476.53 455.84,468.56 459.19,468.98 C462.54,469.39 465.90,478.81 469.25,481.04 C472.60,483.26 475.96,481.99 479.31,482.34 C482.66,482.70 487.69,483.04 489.37,483.18" stroke="#FFB80A" stroke-width="2.05" fill="none" stroke-linejoin="round" stroke-linecap="round"/>
<circle cx="97.03" cy="508.30" r="3.00" fill="#FFB80A"/>
<circle cx="107.09" cy="504.97" r="3.00" fill="#FFB80A"/>
<circle cx="117.15" cy="498.68" r="3.00" fill="#FFB80A"/>
<circle cx="127.21" cy="495.53" r="3.00" fill="#FFB80A"/>
<circle cx="137.27" cy="501.95" r="3.00" fill="#FFB80A"/>
<circle cx="147.33" cy="505.81" r="3.00" fill="#FFB80A"/>
<circle cx="157.39" cy="506.28" r="3.00" fill="#FFB80A"/>
<circle cx="167.45" cy="504.50" r="3.00" fill="#FFB80A"/>
<circle cx="177.51" cy="504.97" r="3.00" fill="#FFB80A"/>
<circle cx="187.57" cy="506.40" r="3.00" fill="#FFB80A"/>
<circle cx="197.63" cy="505.57" r="3.00" fill="#FFB80A"/>
<circle cx="207.69" cy="502.00" r="3.00" fill="#FFB80A"/>
<circle cx="217.75" cy="496.96" r="3.00" fill="#FFB80A"/>
<circle cx="227.81" cy="491.08" r="3.00" fill="#FFB80A"/>
<circle cx="237.87" cy="485.79" r="3.00" fill="#FFB80A"/>
<circle cx="247.93" cy="477.12" r="3.00" fill="#FFB80A"/>
<circle cx="257.99" cy="468.86" r="3.00" fill="#FFB80A"/>
<circle cx="268.05" cy="467.55" r="3.00" fill="#FFB80A"/>
<circle cx="278.11" cy="462.56" r="3.00" fill="#FFB80A"/>
<circle cx="288.17" cy="458.46" r="3.00" fill="#FFB80A"/>
<circle cx="298.23" cy="447.65" r="3.00" fill="#FFB80A"/>
<circle cx="308.29" cy="452.52" r="3.00" fill="#FFB80A"/>
<circle cx="318.35" cy="454.43" r="3.00" fill="#FFB80A"/>
<circle cx="328.41" cy="444.03" r="3.00" fill="#FFB80A"/>
<circle cx="338.47" cy="430.90" r="3.00" fill="#FFB80A"/>
<circle cx="348.53" cy="452.94" r="3.00" fill="#FFB80A"/>
<circle cx="358.59" cy="464.76" r="3.00" fill="#FFB80A"/>
<circle cx="368.65" cy="460.01" r="3.00" fill="#FFB80A"/>
<circle cx="378.71" cy="458.88" r="3.00" fill="#FFB80A"/>
<circle cx="388.77" cy="473.14" r="3.00" fill="#FFB80A"/>
<circle cx="398.83" cy="473.02" r="3.00" fill="#FFB80A"/>
<circle cx="408.89" cy="473.61" r="3.00" fill="#FFB80A"/>
<circle cx="418.95" cy="467.61" r="3.00" fill="#FFB80A"/>
<circle cx="429.01" cy="477.12" r="3.00" fill="#FFB80A"/>
<circle cx="439.07" cy="481.04" r="3.00" fill="#FFB80A"/>
<circle cx="449.13" cy="478.54" r="3.00" fill="#FFB80A"/>
<circle cx="459.19" cy="468.98" r="3.00" fill="#FFB80A"/>
<circle cx="469.25" cy="481.04" r="3.00" fill="#FFB80A"/>
<circle cx="479.31" cy="482.34" r="3.00" fill="#FFB80A"/>
<circle cx="489.37" cy="483.18" r="3.00" fill="#FFB80A"/>
<path d="M110,317.7 H128.3" stroke="#1764C4" stroke-width="1.8"/>
<path d="M119.20,314.70 L121.75,317.70 L119.20,320.70 L116.65,317.70Z" fill="#1764C4"/>
<text x="129.1" y="321.80" class="bl" textLength="50.5" lengthAdjust="spacingAndGlyphs">2012-2017</text>
<path d="M110,342.8 H128.3" stroke="#FF6C22" stroke-width="1.8"/>
<rect x="116.30" y="339.90" width="5.80" height="5.80" fill="#FF6C22"/>
<text x="129.1" y="346.90" class="bl" textLength="50.5" lengthAdjust="spacingAndGlyphs">2018-2019</text>
<path d="M110,368.2 H128.3" stroke="#A0A0A0" stroke-width="1.8"/>
<path d="M119.20,365.00 L122.40,370.60 L116.00,370.60Z" fill="#A0A0A0"/>
<text x="129.1" y="372.30" class="bl" textLength="50.5" lengthAdjust="spacingAndGlyphs">2020-2021</text>
<path d="M110,393.6 H128.3" stroke="#FFB80A" stroke-width="1.8"/>
<circle cx="119.20" cy="393.60" r="3.00" fill="#FFB80A"/>
<text x="129.1" y="397.70" class="bl" textLength="50.5" lengthAdjust="spacingAndGlyphs">2012-2021</text>
<text transform="translate(44.1,511.7) rotate(-90)" class="ttl" textLength="208" lengthAdjust="spacingAndGlyphs">Average annual incidence rate per 100,000</text>
<text x="252.7" y="541.9" class="ttl2" textLength="45.8" lengthAdjust="spacingAndGlyphs">Age(years)</text>
<path d="M18.6,279.6 V292.7 M18.6,285.8 C19.4,284.3 20.6,283.6 22.0,283.6 C24.2,283.6 25.7,285.4 25.7,288.0 C25.7,290.8 24.2,292.6 22.0,292.6 C20.6,292.6 19.3,291.8 18.6,290.3" stroke="#2b2222" stroke-width="1.15" fill="none"/>
</svg>
</body></html>
